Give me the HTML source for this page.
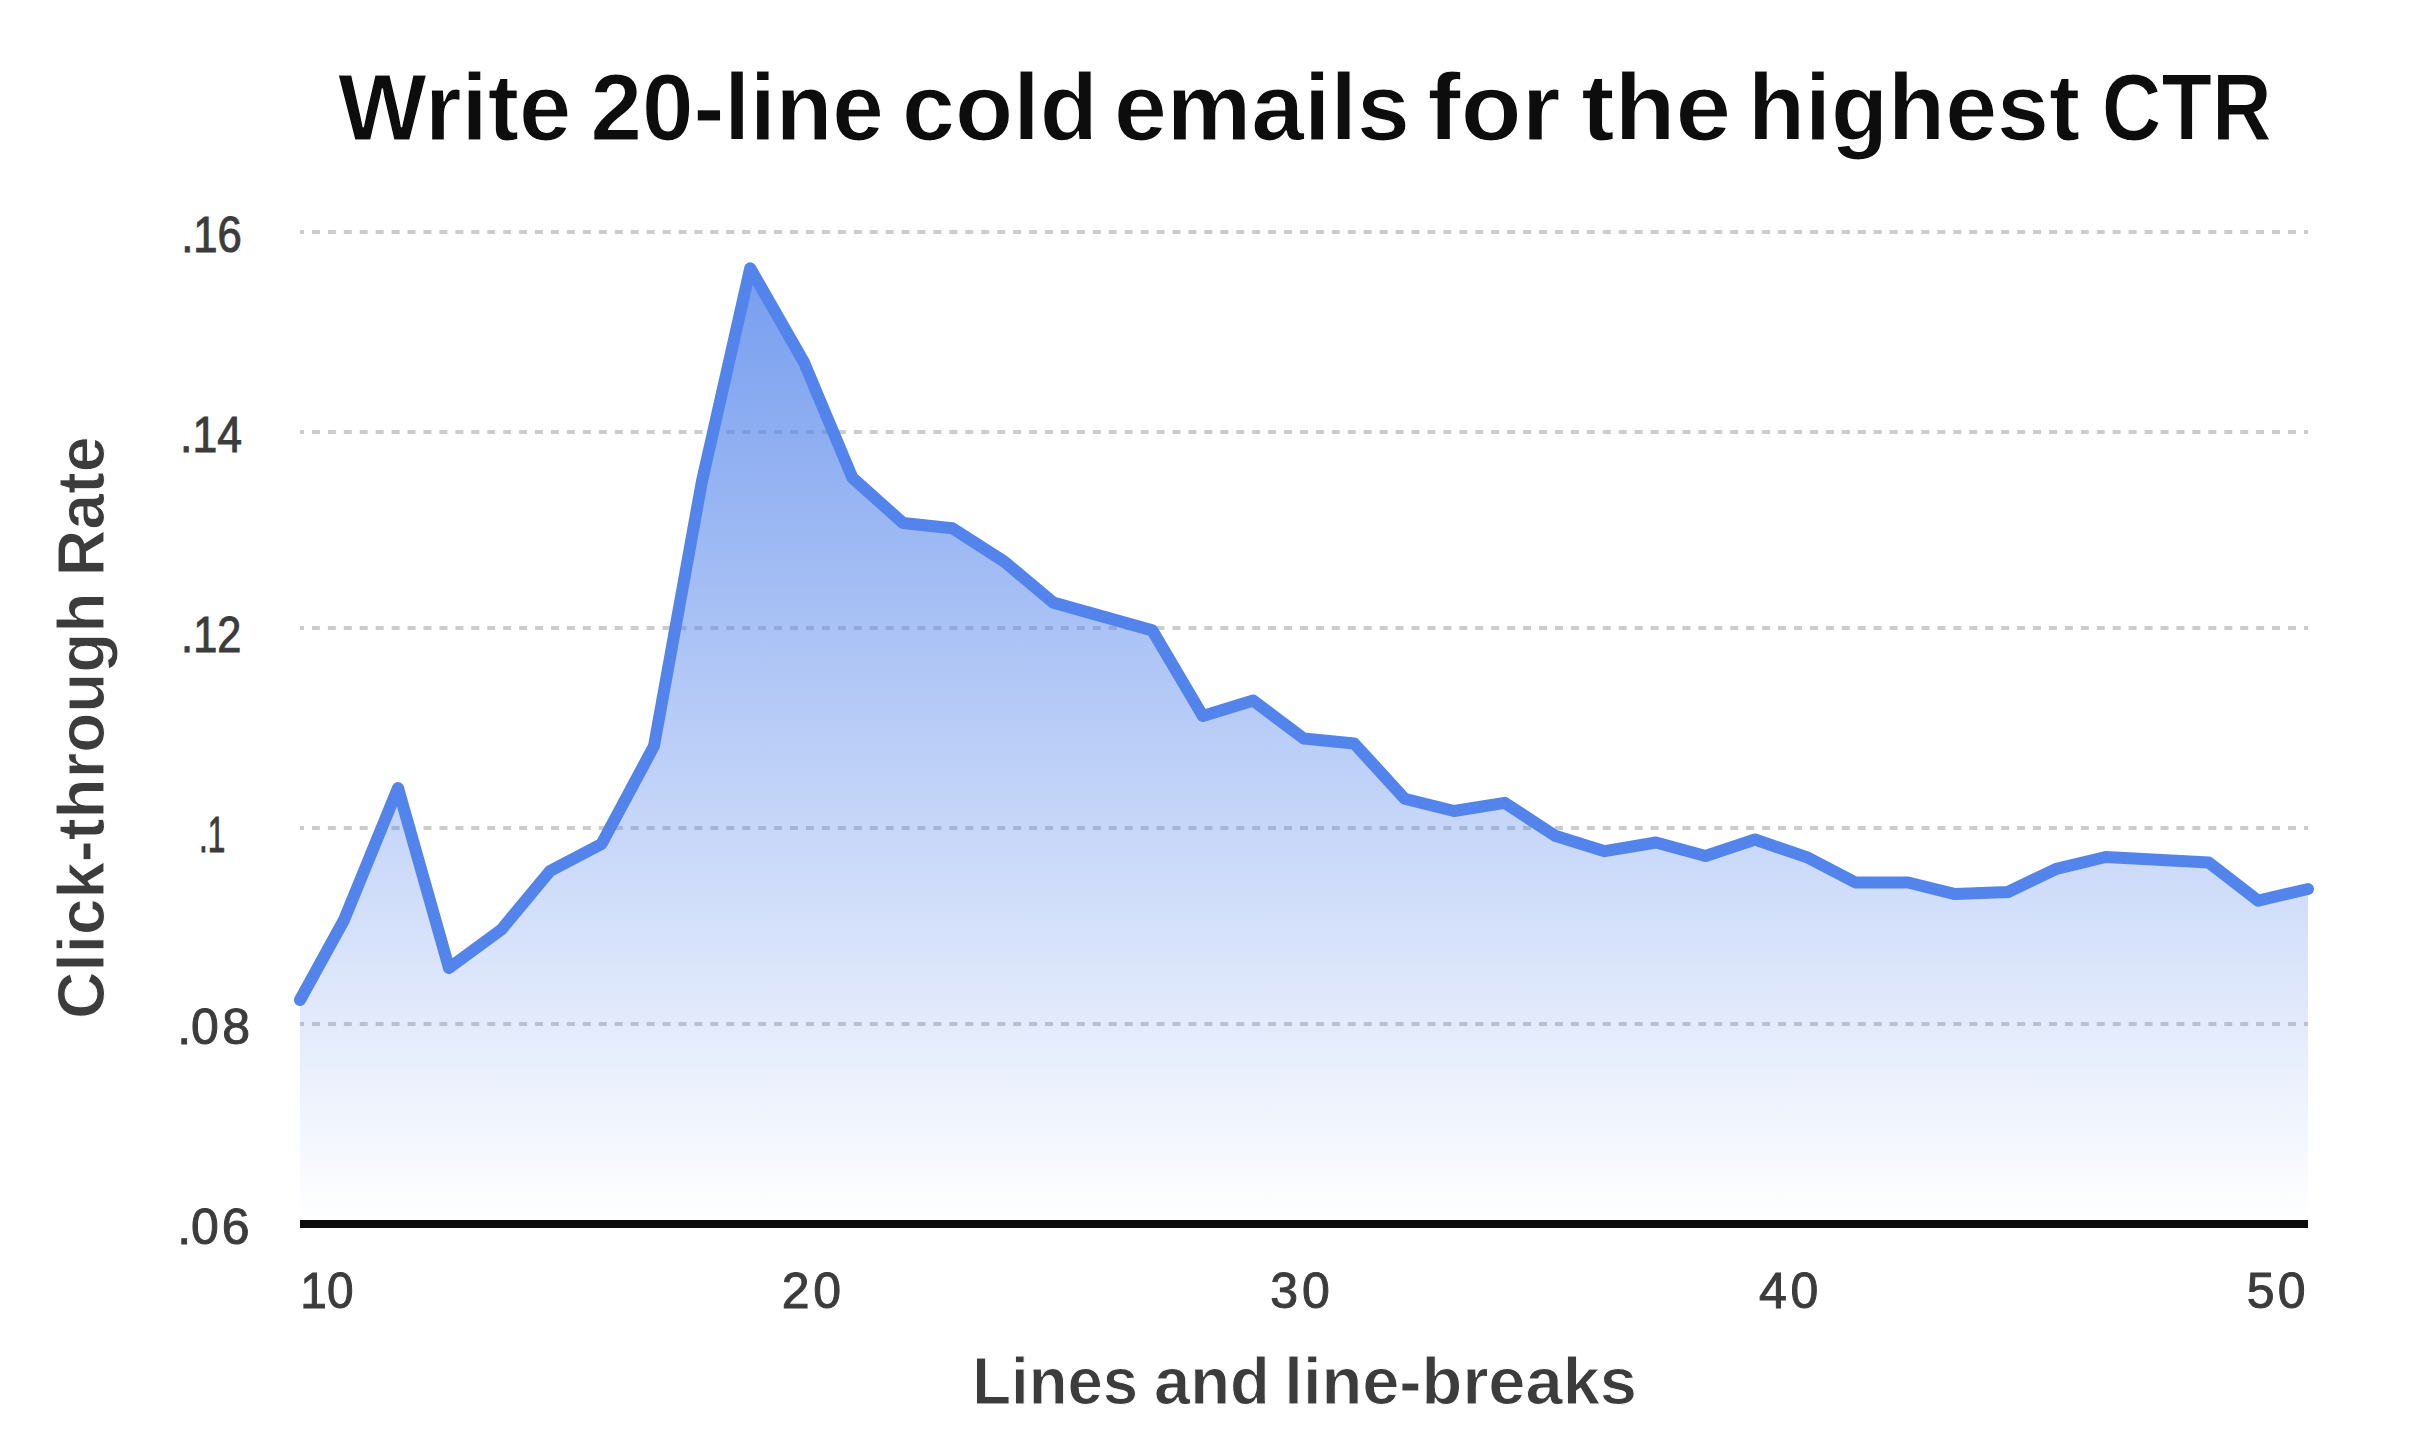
<!DOCTYPE html>
<html lang="en"><head><meta charset="utf-8"><title>Write 20-line cold emails for the highest CTR</title>
<style>
html,body{margin:0;padding:0;background:#fff;}
body{overflow:hidden;}
svg{display:block;width:100vw;height:auto;font-family:'Liberation Sans',sans-serif;}
text{white-space:pre;}
</style></head><body>
<svg width="2416" height="1456" viewBox="0 0 2416 1456" role="img" aria-label="Write 20-line cold emails for the highest CTR">
<defs><linearGradient id="g" gradientUnits="userSpaceOnUse" x1="0" y1="262" x2="0" y2="1220">
<stop offset="0" stop-color="#5384EB" stop-opacity="0.8"/><stop offset="1" stop-color="#5384EB" stop-opacity="0"/></linearGradient></defs>
<rect width="2416" height="1456" fill="#fff"/>
<g stroke="#ccc" stroke-width="4" stroke-dasharray="7.968 7.968" stroke-dashoffset="3.984"><line x1="300" x2="2308" y1="232" y2="232"/><line x1="300" x2="2308" y1="432" y2="432"/><line x1="300" x2="2308" y1="628" y2="628"/><line x1="300" x2="2308" y1="828" y2="828"/><line x1="300" x2="2308" y1="1024" y2="1024"/></g>
<polygon points="300,1000 344,920 398,788 449,968 501.5,929.5 550,871 601.5,844 654,746 702,481 750.2,268.3 804,362.3 852.4,477.7 903,523 952.4,528.3 1004,561.4 1053.3,602.6 1152.3,630.4 1202.8,716 1253.2,700.5 1303.7,738.5 1354.2,743.5 1404.7,798.7 1454.1,811 1504.6,802.8 1555.1,835.8 1604.6,851.2 1656,842.5 1705.5,856 1755,839.5 1808,857.7 1855.5,882.5 1908,882.5 1955,894.1 2008,892 2056.3,868.8 2105.7,857 2208.7,862.6 2258.2,900.7 2308,889 2308,1220 300,1220" fill="url(#g)"/>
<polyline points="300,1000 344,920 398,788 449,968 501.5,929.5 550,871 601.5,844 654,746 702,481 750.2,268.3 804,362.3 852.4,477.7 903,523 952.4,528.3 1004,561.4 1053.3,602.6 1152.3,630.4 1202.8,716 1253.2,700.5 1303.7,738.5 1354.2,743.5 1404.7,798.7 1454.1,811 1504.6,802.8 1555.1,835.8 1604.6,851.2 1656,842.5 1705.5,856 1755,839.5 1808,857.7 1855.5,882.5 1908,882.5 1955,894.1 2008,892 2056.3,868.8 2105.7,857 2208.7,862.6 2258.2,900.7 2308,889" fill="none" stroke="#5384EB" stroke-width="12" stroke-linejoin="round" stroke-linecap="round"/>
<rect x="300" y="1220" width="2008" height="8" fill="#0c0c0c"/>
<g>
<text y="139.80" font-size="94" font-weight="bold" fill="#0d0d0d" stroke="#fff" stroke-width="1.2"><tspan x="338.10" textLength="233.14" lengthAdjust="spacingAndGlyphs">Write</tspan> <tspan x="590.41" textLength="293.40" lengthAdjust="spacingAndGlyphs">20-line</tspan> <tspan x="902.12" textLength="195.77" lengthAdjust="spacingAndGlyphs">cold</tspan> <tspan x="1114.03" textLength="295.72" lengthAdjust="spacingAndGlyphs">emails</tspan> <tspan x="1427.64" textLength="132.77" lengthAdjust="spacingAndGlyphs">for</tspan> <tspan x="1581.30" textLength="149.79" lengthAdjust="spacingAndGlyphs">the</tspan> <tspan x="1748.06" textLength="332.09" lengthAdjust="spacingAndGlyphs">highest</tspan> <tspan x="2101.82" textLength="169.86" lengthAdjust="spacingAndGlyphs">CTR</tspan></text>
<text x="181.19" y="252.00" font-size="50" fill="#3c3c3c" stroke="#3c3c3c" stroke-width="1.0" textLength="60.68" lengthAdjust="spacingAndGlyphs">.16</text>
<text x="180.02" y="452.20" font-size="50" fill="#3c3c3c" stroke="#3c3c3c" stroke-width="1.0" textLength="61.89" lengthAdjust="spacingAndGlyphs">.14</text>
<text x="181.11" y="652.10" font-size="50" fill="#3c3c3c" stroke="#3c3c3c" stroke-width="1.0" textLength="60.24" lengthAdjust="spacingAndGlyphs">.12</text>
<text x="199.03" y="852.10" font-size="50" fill="#3c3c3c" stroke="#3c3c3c" stroke-width="1.0" textLength="26.35" lengthAdjust="spacingAndGlyphs">.1</text>
<text x="300.31" y="1307.70" font-size="50" fill="#3c3c3c" stroke="#3c3c3c" stroke-width="1.0" textLength="53.18" lengthAdjust="spacingAndGlyphs">10</text>
<text y="1404.00" font-size="67" font-weight="bold" fill="#3c3c3c" stroke="#fff" stroke-width="1.0"><tspan x="972.23" textLength="165.95" lengthAdjust="spacingAndGlyphs">Lines</tspan> <tspan x="1154.08" textLength="115.78" lengthAdjust="spacingAndGlyphs">and</tspan> <tspan x="1284.33" textLength="352.58" lengthAdjust="spacingAndGlyphs">line-breaks</tspan></text>
<text transform="translate(103.90,0) rotate(-90)" y="0" font-size="67" font-weight="bold" fill="#3c3c3c" stroke="#fff" stroke-width="1.0"><tspan x="-1018.95" textLength="426.42" lengthAdjust="spacingAndGlyphs">Click-through</tspan> <tspan x="-576.34" textLength="139.94" lengthAdjust="spacingAndGlyphs">Rate</tspan></text>
<text x="177.26 190.99 222.18" y="1043.50" font-size="50" fill="#3c3c3c" stroke="#3c3c3c" stroke-width="1.0">.08</text>
<text x="177.26 190.99 221.79" y="1243.80" font-size="50" fill="#3c3c3c" stroke="#3c3c3c" stroke-width="1.0">.06</text>
<text x="781.84 813.14" y="1307.70" font-size="50" fill="#3c3c3c" stroke="#3c3c3c" stroke-width="1.0">20</text>
<text x="1270.18 1302.04" y="1307.70" font-size="50" fill="#3c3c3c" stroke="#3c3c3c" stroke-width="1.0">30</text>
<text x="1758.98 1790.54" y="1307.70" font-size="50" fill="#3c3c3c" stroke="#3c3c3c" stroke-width="1.0">40</text>
<text x="2246.83 2277.84" y="1307.70" font-size="50" fill="#3c3c3c" stroke="#3c3c3c" stroke-width="1.0">50</text>
</g>
</svg>
</body></html>
